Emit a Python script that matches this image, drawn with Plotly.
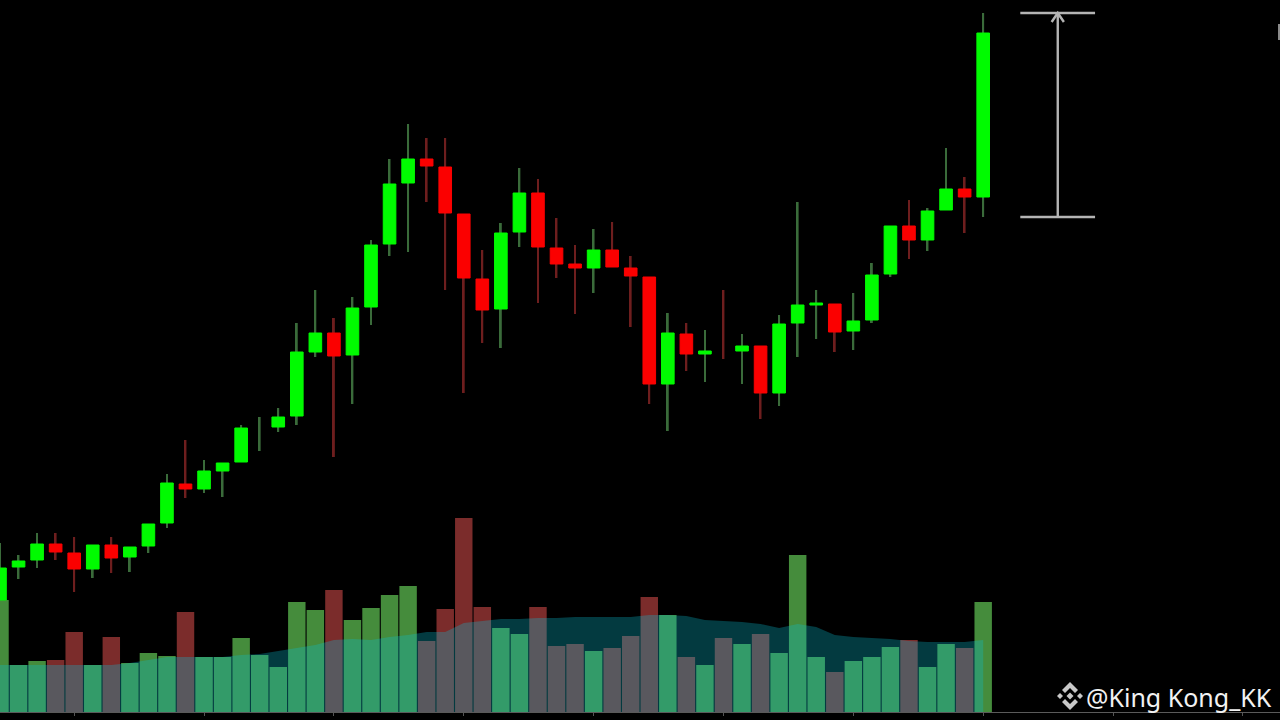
import plotly.graph_objects as go

# Index of each session
sessions = list(range(54))
up = [1,1,1,0,0,1,0,1,1,1,0,1,1,1,1,1,1,1,0,1,1,1,1,0,0,0,0,1,1,0,0,0,1,0,0,0,1,0,1,0,1,0,1,1,1,0,1,1,1,0,1,1,0,1]
opens = [112,145,152,168,159,143,167,155,166,189,228,223,241,250,None,285,296,360,379,357,405,468,529,553,545,498,433,403,480,519,464,448,444,462,444,435,328,378,358,None,361,366,319,389,407,408,381,392,438,486,472,502,523,515]
highs = [169,157,179,179,175,167,175,165,188,238,272,252,249,287,295,304,389,422,394,415,472,553,588,574,574,498,462,489,544,533,494,467,483,490,456,435,399,389,382,422,378,366,397,510,422,408,419,449,486,512,504,564,535,699]
lows = [112,133,144,152,120,134,139,140,159,184,214,219,215,250,261,280,287,355,255,308,387,456,460,510,422,319,369,364,465,409,434,398,419,445,385,308,281,341,330,353,328,293,306,355,373,360,362,389,435,453,461,502,479,495]
closes = [144,151,168,160,143,167,154,165,188,229,223,241,249,284,None,295,360,379,356,404,467,528,553,546,499,434,402,479,519,465,448,444,462,445,436,328,379,358,361,None,366,319,388,407,409,380,391,437,486,472,501,523,515,679]
volume = [112,47,51,52,80,47,75,49,59,56,100,55,55,74,57,45,110,102,122,92,104,117,126,71,103,194,105,84,78,105,66,68,61,64,76,115,97,55,47,74,68,78,59,157,55,40,51,55,65,72,45,68,64,110]
volume_ma = [47,47,47,47,47,47,47,49,52,55,55,55,55,57,58,61,64,67,72,73,72,75,77,80,80,89,91,93,93,94,94,95,95,95,95,97,97,96,92,91,90,88,84,88,85,77,75,74,73,71,70,70,70,72]
tick_sessions = [4,11,18,25,32,39,46,53,60,67]
move_low, move_high = 495, 699
watermark = "@King Kong_KK"

GREEN, RED = "#00fb00", "#fb0000"
GREEN_WICK, RED_WICK = "#3a6b3a", "#6e1e1e"
GREEN_VOL, RED_VOL = "#458c3c", "#7b2c2b"
GREY = "#b4b4b4"

body_hi = [None if o is None else max(o, c) for o, c in zip(opens, closes)]
body_lo = [None if o is None else min(o, c) for o, c in zip(opens, closes)]

fig = go.Figure()
fig.add_bar(x=sessions, y=volume, width=0.94,
            marker=dict(color=[GREEN_VOL if u else RED_VOL for u in up], line_width=0))
fig.add_scatter(x=sessions, y=volume_ma, mode="lines", line=dict(width=0, shape="linear"),
                fill="tozeroy", fillcolor="rgba(10,193,213,0.30)")
fig.add_bar(x=sessions, y=[h - l for h, l in zip(highs, lows)], base=lows, width=0.1,
            marker=dict(color=[GREEN_WICK if u else RED_WICK for u in up], line_width=0))
fig.add_candlestick(x=sessions, open=opens, high=body_hi, low=body_lo, close=closes, whiskerwidth=0,
                    increasing=dict(line=dict(color=GREEN, width=1), fillcolor=GREEN),
                    decreasing=dict(line=dict(color=RED, width=1), fillcolor=RED))

# Measured-move bracket
bx0, bx1, bxm = 55.0, 59.03, 57.02
for xs, ys in ([[bx0, bx1], [move_high, move_high]],
               [[bx0, bx1], [move_low, move_low]],
               [[bxm, bxm], [move_low, move_high]],
               [[bxm - 0.33, bxm, bxm + 0.33], [move_high - 9, move_high, move_high - 9]]):
    fig.add_scatter(x=xs, y=ys, mode="lines", line=dict(color=GREY, width=2.4))

# Watermark logo
S = 1280.0
LOGO = "#c8c8c8"
def diamond(cx, cy, r):
    return dict(type="path", xref="paper", yref="paper", line_width=0, fillcolor=LOGO,
                path=f"M {cx/S} {1-(cy-r)/712} L {(cx+r)/S} {1-cy/712} L {cx/S} {1-(cy+r)/712} L {(cx-r)/S} {1-cy/712} Z")
def chevron(cx, cy, sgn):
    pts = [(cx-8, cy+sgn*8), (cx, cy), (cx+8, cy+sgn*8), (cx+5, cy+sgn*11), (cx, cy+sgn*6), (cx-5, cy+sgn*11)]
    p = " L ".join(f"{x/S} {1-y/712}" for x, y in pts)
    return dict(type="path", xref="paper", yref="paper", line_width=0, fillcolor=LOGO, path=f"M {p} Z")
shapes = [diamond(1070, 696, 3.5), diamond(1060, 696, 3), diamond(1080, 696, 3),
          chevron(1070, 682, 1), chevron(1070, 710, -1),
          dict(type="rect", xref="paper", yref="paper", x0=1278/S, x1=1, y0=1-40/712, y1=1-24/712,
               line_width=0, fillcolor="#8a8a8a")]

fig.update_layout(
    width=1280, height=720, autosize=False, showlegend=False, barmode="overlay",
    boxgap=0.2, boxgroupgap=0.15,
    paper_bgcolor="#000000", plot_bgcolor="#000000", shapes=shapes,
    margin=dict(l=0, r=0, t=0, b=8),
    xaxis=dict(range=[0, 69], rangeslider_visible=False, showgrid=False, zeroline=False,
               tickvals=tick_sessions, showticklabels=False, ticks="outside", ticklen=3,
               tickcolor="#555555", showline=True, linecolor="#5a5a5a", linewidth=1),
    yaxis=dict(range=[0, 712], showgrid=False, zeroline=False, showticklabels=False, ticks=""),
    annotations=[dict(text=watermark, xref="paper", yref="paper", x=1274/S, y=1-697/712,
                      xanchor="right", yanchor="middle", showarrow=False,
                      font=dict(family="Noto Sans", size=25, color="#f2f2f2"))],
)
fig.write_html("out.html", config={"displayModeBar": False},
               post_script="document.body.style.margin='0';document.body.style.background='#000';document.documentElement.style.overflow='hidden';")
